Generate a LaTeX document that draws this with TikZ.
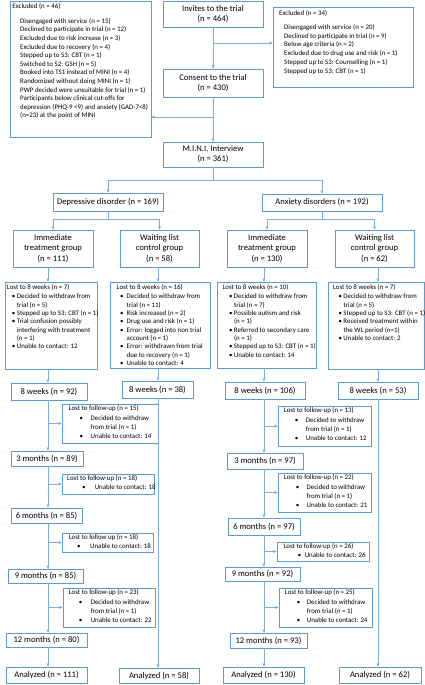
\documentclass[tikz,border=0pt]{standalone}
\usepackage{fontspec}
\setmainfont{Carlito}
\usetikzlibrary{arrows.meta}
\definecolor{bcol}{RGB}{91,155,213}
\definecolor{lcol}{RGB}{125,172,222}
\newlength\bo \newlength\bw
\newcommand{\bi}[1]{\hspace*{\bo}\makebox[\bw][l]{\textbullet}#1}
\newcommand{\bc}[1]{\hspace*{\bo}\hspace*{\bw}#1}
\newcommand{\bx}[7]{\node[#6,minimum width={#4-#2},minimum height={#5-#3}] (#1) at ({(#2+#4)/2},{(#3+#5)/2}) {#7};}
\begin{document}
\begin{tikzpicture}[x=1pt,y=-1pt,
  box/.style={draw=bcol,line width=0.9pt,fill=white,inner sep=0pt,outer sep=0pt,align=center,font=\fontsize{8.6}{10}\selectfont},
  box3/.style={box,font=\fontsize{8.6}{10.8}\selectfont},
  lt/.style={inner sep=0pt,anchor=north west,align=left,font=\fontsize{6.9}{8.3}\selectfont},
  ft/.style={inner sep=0pt,anchor=north west,align=left,font=\fontsize{6.9}{8.8}\selectfont},
  et/.style={inner sep=0pt,anchor=north west,align=left,font=\fontsize{6.9}{8.6}\selectfont},
  arr/.style={draw=lcol,line width=0.8pt,-{Latex[length=3.5pt,width=3.5pt]}},
  ln/.style={draw=lcol,line width=0.8pt}]
\useasboundingbox (0,0) rectangle (425,685);
% top
\bx{inv}{163}{1}{263}{27}{box}{Invites to the trial\\(n = 464)}
\bx{con}{163}{69}{263}{97}{box}{Consent to the trial\\(n = 430)}
\bx{mini}{163}{142}{263}{167}{box}{M.I.N.I. Interview\\(n = 361)}
\bx{exL}{10}{1}{151}{137}{box}{}
\bx{exR}{273}{7}{413}{87}{box}{}
\node[et] (exLh) at ([shift={(2.3,2)}]exL.north west) {Excluded (n = 46)};
\node[et] (exLl) at ([shift={(10,17)}]exL.north west) {Disengaged with service (n = 15)\\Declined to participate in trial (n = 12)\\Excluded due to risk increase (n = 3)\\Excluded due to recovery (n = 4)\\Stepped up to S3: CBT (n = 1)\\Switched to S2: GSH (n = 5)\\Booked into TS1 instead of MINI (n = 4)\\Randomized without doing MINI (n = 1)\\PWP decided were unsuitable for trial (n = 1)\\Participants below clinical cut-offs for\\depression (PHQ-9 <9) and anxiety (GAD-7<8)\\(n=23) at the point of MINI};
\node[et,font=\fontsize{6.9}{8.8}\selectfont] (exRh) at ([shift={(6,3)}]exR.north west) {Excluded (n = 34)};
\node[et,font=\fontsize{6.9}{8.8}\selectfont] (exRl) at ([shift={(11,17)}]exR.north west) {Disengaged with service (n = 20)\\Declined to participate in trial (n = 9)\\Below age criteria (n = 2)\\Excluded due to drug use and risk (n = 1)\\Stepped up to S3: Counselling (n = 1)\\Stepped up to S3: CBT (n = 1)};
% groups
\bx{dep}{53}{193}{163}{211}{box}{Depressive disorder (n = 169)}
\bx{anx}{262}{194}{382}{211}{box}{Anxiety disorders (n = 192)}
\bx{imm1}{13}{230}{93}{267}{box3}{Immediate\\treatment group\\(n = 111)}
\bx{wl1}{120}{230}{199}{267}{box3}{Waiting list\\control group\\(n = 58)}
\bx{imm2}{227}{230}{307}{267}{box3}{Immediate\\treatment group\\(n = 130)}
\bx{wl2}{335}{230}{414}{267}{box3}{Waiting list\\control group\\(n = 62)}
% lost to 8 weeks
\bx{ls1}{5}{282}{97}{369}{box}{}
\bx{ls2}{110}{282}{210}{368}{box}{}
\bx{ls3}{217}{282}{316}{368}{box}{}
\bx{ls4}{328.5}{282}{424}{369}{box}{}
\setlength\bo{5pt}\setlength\bw{5pt}
\node[lt] (ls1t) at ([shift={(1.7,2)}]ls1.north west) {Lost to 8 weeks (n = 7)\\[1.4pt] \bi{Decided to withdraw from}\\ \bc{trial (n = 5)}\\ \bi{Stepped up to S3: CBT (n = 1)}\\ \bi{Trial confusion possibly}\\ \bc{interfering with treatment}\\ \bc{(n = 1)}\\ \bi{Unable to contact: 12}};
\setlength\bo{3.5pt}\setlength\bw{6.5pt}
\node[lt] (ls2t) at ([shift={(6.5,2)}]ls2.north west) {Lost to 8 weeks (n = 16)\\[1.4pt] \bi{Decided to withdraw from}\\ \bc{trial (n = 11)}\\ \bi{Risk increased (n = 2)}\\ \bi{Drug use and risk (n = 1)}\\ \bi{Error: logged into non trial}\\ \bc{account (n = 1)}\\ \bi{Error: withdrawn from trial}\\ \bc{due to recovery (n = 1)}\\ \bi{Unable to contact: 4}};
\setlength\bo{6.5pt}\setlength\bw{5pt}
\node[lt] (ls3t) at ([shift={(5.3,2)}]ls3.north west) {Lost to 8 weeks (n = 10)\\[1.4pt] \bi{Decided to withdraw from}\\ \bc{trial (n = 7)}\\ \bi{Possible autism and risk}\\ \bc{(n = 1)}\\ \bi{Referred to secondary care}\\ \bc{(n = 1)}\\ \bi{Stepped up to S3: CBT (n = 1)}\\ \bi{Unable to contact: 14}};
\setlength\bo{5.5pt}\setlength\bw{5pt}
\node[lt] (ls4t) at ([shift={(4.3,2)}]ls4.north west) {Lost to 8 weeks (n = 7)\\[1.4pt] \bi{Decided to withdraw from}\\ \bc{trial (n = 5)}\\ \bi{Stepped up to S3: CBT (n = 1)}\\ \bi{Received treatment within}\\ \bc{the WL period (n=1)}\\ \bi{Unable to contact: 2}};
% time points
\bx{w1}{11}{383}{87}{400}{box}{8 weeks (n = 92)}
\bx{w2}{122}{381}{193}{398}{box}{8 weeks (n = 38)}
\bx{w3}{225}{382}{305}{399}{box}{8 weeks (n = 106)}
\bx{w4}{338}{382}{418}{399}{box}{8 weeks (n = 53)}
\bx{m3a}{11}{451}{83}{466}{box}{3 months (n = 89)}
\bx{m6a}{11}{508}{82}{523}{box}{6 months (n = 85)}
\bx{m9a}{8}{569}{83}{583}{box}{9 months (n = 85)}
\bx{m12a}{6}{633}{87}{647}{box}{12 months (n = 80)}
\bx{ana1}{6}{667}{87}{683}{box}{Analyzed (n = 111)}
\bx{ana2}{119}{668}{199}{683.5}{box}{Analyzed (n = 58)}
\bx{m3b}{227}{453}{303}{469}{box}{3 months (n = 97)}
\bx{m6b}{228}{518}{300}{535}{box}{6 months (n = 97)}
\bx{m9b}{225}{567}{300}{581}{box}{9 months (n = 92)}
\bx{m12b}{230}{633}{307}{648}{box}{12 months (n = 93)}
\bx{ana3}{223}{667}{304}{683}{box}{Analyzed (n = 130)}
\bx{ana4}{339}{667}{421}{683}{box}{Analyzed (n = 62)}
% follow-up losses
\bx{f1}{62}{404}{158}{443}{box}{}
\bx{f2}{62}{474}{154}{494}{box}{}
\bx{f3}{62}{533}{153}{552}{box}{}
\bx{f4}{63}{588}{155}{627}{box}{}
\bx{g1}{278}{406}{371}{446}{box}{}
\bx{g2}{278}{473}{371}{512}{box}{}
\bx{g3}{277}{542}{369}{561}{box}{}
\bx{g4}{279}{588}{372}{627}{box}{}
\setlength\bo{11pt}\setlength\bw{11pt}
\node[ft] (f1t) at ([shift={(6.5,1.5)}]f1.north west) {Lost to follow-up (n = 15)\\[1pt] \bi{Decided to withdraw}\\ \bc{from trial (n = 1)}\\ \bi{Unable to contact: 14}};
\setlength\bo{15pt}\setlength\bw{12.6pt}
\node[ft] (f2t) at ([shift={(5,1.5)}]f2.north west) {Lost to follow-up (n = 18)\\ \bi{Unable to contact: 18}};
\setlength\bo{8.4pt}\setlength\bw{13pt}
\node[ft] (f3t) at ([shift={(6.6,1.5)}]f3.north west) {Lost to follow up (n = 18)\\ \bi{Unable to contact: 18}};
\setlength\bo{10pt}\setlength\bw{12pt}
\node[ft] (f4t) at ([shift={(5.6,1.5)}]f4.north west) {Lost to follow-up (n = 23)\\[1pt] \bi{Decided to withdraw}\\ \bc{from trial (n = 1)}\\ \bi{Unable to contact: 22}};
\setlength\bo{11pt}\setlength\bw{11pt}
\node[ft] (g1t) at ([shift={(5.7,1.5)}]g1.north west) {Lost to follow-up (n = 13)\\[1pt] \bi{Decided to withdraw}\\ \bc{from trial (n = 1)}\\ \bi{Unable to contact: 12}};
\setlength\bo{12pt}\setlength\bw{10.7pt}
\node[ft] (g2t) at ([shift={(5.7,1.5)}]g2.north west) {Lost to follow-up (n = 22)\\[1pt] \bi{Decided to withdraw}\\ \bc{from trial (n = 1)}\\ \bi{Unable to contact: 21}};
\setlength\bo{14.3pt}\setlength\bw{7pt}
\node[ft] (g3t) at ([shift={(6.3,1.5)}]g3.north west) {Lost to follow-up (n = 26)\\ \bi{Unable to contact: 26}};
\setlength\bo{12pt}\setlength\bw{10pt}
\node[ft] (g4t) at ([shift={(5.7,1.5)}]g4.north west) {Lost to follow-up (n = 25)\\[1pt] \bi{Decided to withdraw}\\ \bc{from trial (n = 1)}\\ \bi{Unable to contact: 24}};
% connectors top
\coordinate (b1) at (213,43);
\coordinate (b2) at (213,117);
\coordinate (s1) at (213,180);
\coordinate (s2) at (108,219);
\coordinate (s3) at (322,219);
\draw[arr] (inv) -- (con);
\draw[arr] (b1) -- (b1 -| exR.west);
\draw[arr] (con) -- (mini);
\draw[arr] (b2) -- (b2 -| exL.east);
\draw[ln] (mini) -- (s1);
\draw[arr] (s1) -| (dep.north);
\draw[arr] (s1) -| (anx.north);
\draw[ln] (dep.south) -- (s2);
\draw[arr] (s2) -| (imm1.north);
\draw[arr] (s2) -| (wl1.north);
\draw[ln] (anx.south) -- (s3);
\draw[arr] (s3) -| (imm2.north);
\draw[arr] (s3) -| (wl2.north);
% columns
\coordinate (cA) at (48,0);
\coordinate (cB) at (158,0);
\coordinate (cC) at (264,0);
\coordinate (cD) at (378,0);
\draw[arr] (imm1.south -| cA) -- (ls1.north -| cA);
\draw[arr] (ls1.south -| cA) -- (w1.north -| cA);
\draw[arr] (w1.south -| cA) -- (m3a.north -| cA);
\draw[arr] (m3a.south -| cA) -- (m6a.north -| cA);
\draw[arr] (m6a.south -| cA) -- (m9a.north -| cA);
\draw[arr] (m9a.south -| cA) -- (m12a.north -| cA);
\draw[arr] (m12a.south -| cA) -- (ana1.north -| cA);
\draw[arr] (f1.west -| cA) -- (f1.west);
\draw[arr] (f2.west -| cA) -- (f2.west);
\draw[arr] (f3.west -| cA) -- (f3.west);
\draw[arr] (f4.west -| cA) -- (f4.west);
\draw[arr] (wl1.south -| cB) -- (ls2.north -| cB);
\draw[arr] (ls2.south -| cB) -- (w2.north -| cB);
\draw[arr] (w2.south -| cB) -- (ana2.north -| cB);
\draw[arr] (imm2.south -| cC) -- (ls3.north -| cC);
\draw[arr] (ls3.south -| cC) -- (w3.north -| cC);
\draw[arr] (w3.south -| cC) -- (m3b.north -| cC);
\draw[arr] (m3b.south -| cC) -- (m6b.north -| cC);
\draw[arr] (m6b.south -| cC) -- (m9b.north -| cC);
\draw[arr] (m9b.south -| cC) -- (m12b.north -| cC);
\draw[arr] (m12b.south -| cC) -- (ana3.north -| cC);
\draw[arr] (g1.west -| cC) -- (g1.west);
\draw[arr] (g2.west -| cC) -- (g2.west);
\draw[arr] (g3.west -| cC) -- (g3.west);
\draw[arr] (g4.west -| cC) -- (g4.west);
\draw[arr] (wl2.south -| cD) -- (ls4.north -| cD);
\draw[arr] (ls4.south -| cD) -- (w4.north -| cD);
\draw[arr] (w4.south -| cD) -- (ana4.north -| cD);
\end{tikzpicture}
\end{document}
